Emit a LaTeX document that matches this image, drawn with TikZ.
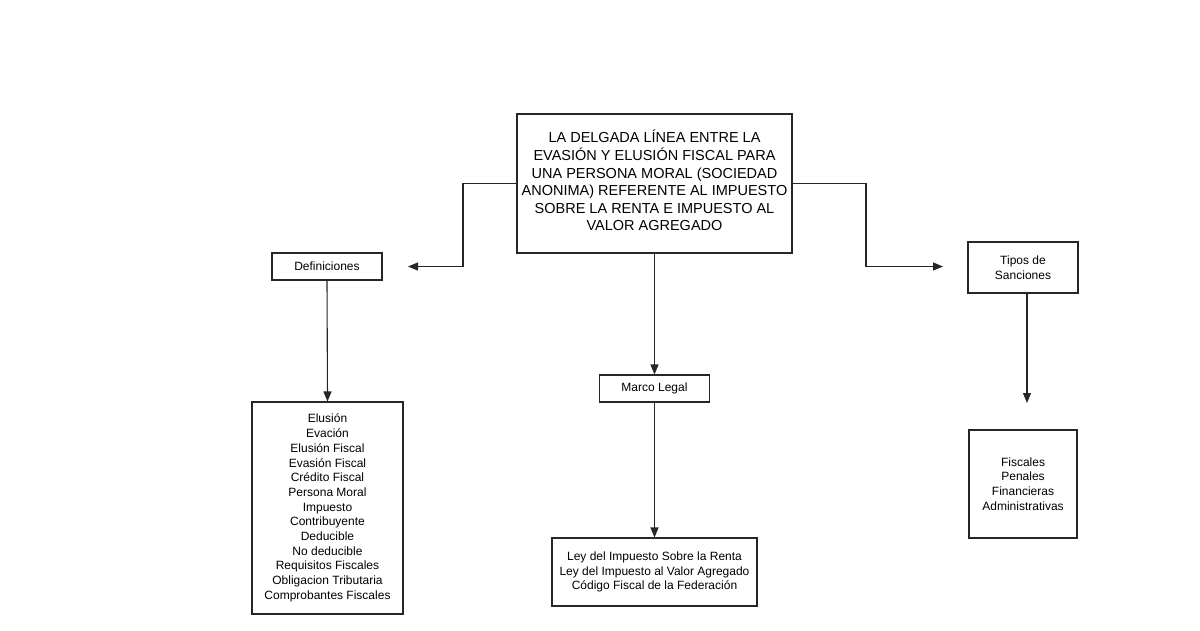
\documentclass[tikz,border=0pt]{standalone}
\usepackage{fontspec}
\setmainfont{Liberation Sans}
\usetikzlibrary{arrows.meta}
\begin{document}
\begin{tikzpicture}[x=1pt,y=-1pt,
  box/.style={draw=black!85,line width=1.05pt,rectangle,inner sep=0pt,align=center,
    font=\fontsize{12}{14.7}\selectfont},
  bigbox/.style={box,font=\fontsize{14.5}{17.6}\selectfont},
  conn/.style={draw=black!85,line width=1.1pt,-{Triangle[length=10pt,width=8pt]}}]
\useasboundingbox (0,0) rectangle (1200,630);
\fill[white] (0,0) rectangle (1200,630);
\node[bigbox,minimum width=275pt,minimum height=139pt] (main) at (654.5,183.5)
  {LA DELGADA LÍNEA ENTRE LA\\EVASIÓN Y ELUSIÓN FISCAL PARA\\UNA PERSONA MORAL (SOCIEDAD\\ANONIMA) REFERENTE AL IMPUESTO\\SOBRE LA RENTA E IMPUESTO AL\\VALOR AGREGADO\\[-12pt]};
\node[box,minimum width=110pt,minimum height=27pt] (def) at (327,266.5) {Definiciones};
\node[box,minimum width=151pt,minimum height=212pt] (deflist) at (327.5,508)
  {Elusión\\Evación\\Elusión Fiscal\\Evasión Fiscal\\Crédito Fiscal\\Persona Moral\\Impuesto\\Contribuyente\\Deducible\\No deducible\\Requisitos Fiscales\\Obligacion Tributaria\\Comprobantes Fiscales};
\node[box,minimum width=110pt,minimum height=27pt] (marco) at (654.5,388.5) {Marco Legal};
\node[box,minimum width=205pt,minimum height=68pt] (ley) at (654.5,572)
  {Ley del Impuesto Sobre la Renta\\Ley del Impuesto al Valor Agregado\\Código Fiscal de la Federación};
\node[box,minimum width=110pt,minimum height=51pt] (tipos) at (1023,267.5) {Tipos de\\Sanciones};
\node[box,minimum width=108pt,minimum height=108pt] (sanc) at (1023,484) {Fiscales\\Penales\\Financieras\\Administrativas};
\coordinate (lend) at (408,266.5);
\coordinate (rend) at (943,266.5);
\coordinate (tend) at (1027,403);
\coordinate (tstart) at (1027,293);
\draw[conn] (main.west |- 0,183.5) -| (463,266.5) -- (lend);
\draw[conn] (main.east |- 0,183.5) -| (866,266.5) -- (rend);
\draw[conn] (def.south) -- (deflist.north);
\draw[conn] (main.south) -- (marco.north);
\draw[conn] (marco.south) -- (ley.north);
\draw[conn] (tstart) -- (tend);
\end{tikzpicture}
\end{document}
